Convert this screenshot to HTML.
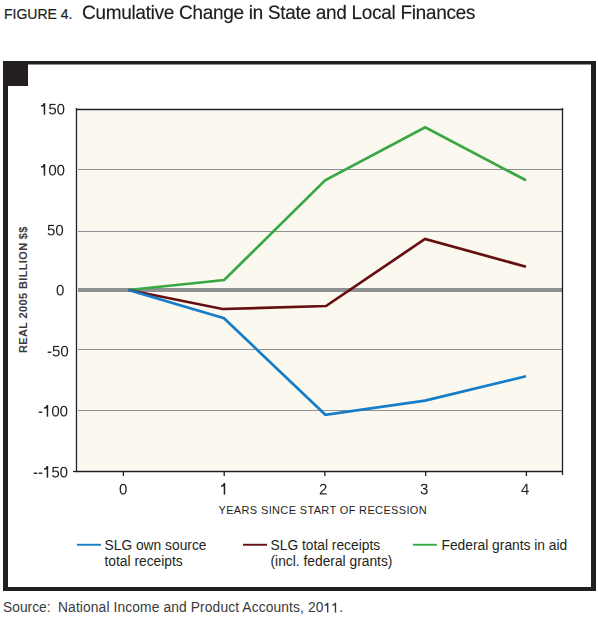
<!DOCTYPE html>
<html>
<head>
<meta charset="utf-8">
<style>
html,body{margin:0;padding:0;background:#fff;}
body{width:598px;height:621px;position:relative;overflow:hidden;font-family:"Liberation Sans",sans-serif;color:#231f20;}
.t{position:absolute;white-space:nowrap;line-height:1;}
.yl{font-size:30px;transform:scale(0.5,0.54);transform-origin:0 0;will-change:transform;}
.xl{font-size:30px;transform:scale(0.5,0.54);transform-origin:0 0;will-change:transform;}
.lg{font-size:13.8px;line-height:16px;}
svg{position:absolute;left:0;top:0;}
.o{position:relative;color:transparent;}
.o::before{content:"";position:absolute;left:0;top:0;width:1em;height:1em;background:#231f20;clip-path:polygon(24.7% 20.3%,34.7% 20.3%,34.7% 90.5%,24.7% 90.5%,24.7% 40%,6.7% 41.5%,6.7% 33%,17% 30.5%);}
.src .o::before{background:#3a3a3a;}

</style>
</head>
<body>
<svg width="598" height="621" viewBox="0 0 598 621">
  <!-- outer frame -->
  <path d="M3 61 H596 V591 H3 Z M8 64.6 V587 H591 V64.6 Z" fill="#231f20" fill-rule="evenodd"/>
  <rect x="3" y="61" width="25" height="25" fill="#231f20"/>
  <!-- plot bg -->
  <rect x="78" y="111" width="483.5" height="359" fill="#fbf8f0"/>
  <!-- gridlines -->
  <g fill="#8f9295">
    <rect x="78" y="169" width="484" height="1"/>
    <rect x="78" y="231" width="484" height="1"/>
    <rect x="78" y="349" width="484" height="1"/>
    <rect x="78" y="410" width="484" height="1"/>
  </g>
  <rect x="78" y="288" width="484" height="4" fill="#8e9091"/>
  <!-- axes -->
  <g stroke="#231f20" stroke-width="1.3" fill="none">
    <path d="M76.5 108 V471.5 H562.5 V109.5 H76.5"/>
    <line x1="73" y1="471.5" x2="76.5" y2="471.5"/>
    <line x1="123.4" y1="471.5" x2="123.4" y2="476"/>
    <line x1="224.2" y1="471.5" x2="224.2" y2="476"/>
    <line x1="324.9" y1="471.5" x2="324.9" y2="476"/>
    <line x1="425.7" y1="471.5" x2="425.7" y2="476"/>
    <line x1="526.4" y1="471.5" x2="526.4" y2="476"/>
    <line x1="562.5" y1="471.5" x2="562.5" y2="475"/>
    <line x1="562.5" y1="108" x2="562.5" y2="110"/>
  </g>
  <!-- data -->
  <g fill="none" stroke-width="2.7" stroke-linejoin="miter">
    <polyline stroke="#38a844" points="128.4,290 224.2,280 325.1,180.3 425.2,127.4 526,180.3"/>
    <polyline stroke="#660f11" points="128.4,290 222.5,309 326,306 425,239 526,266.7"/>
    <polyline stroke="#167dc8" points="128.4,290 224,318.2 325.4,414.8 425,400.6 526,376.2"/>
  </g>
  <!-- legend lines -->
  <rect x="77" y="543.8" width="24" height="1.9" fill="#167dc8"/>
  <rect x="243" y="543.8" width="24" height="1.9" fill="#660f11"/>
  <rect x="413" y="543.8" width="24" height="1.9" fill="#38a844"/>
</svg>

<div class="t" style="left:4px;top:7px;font-size:14px;-webkit-text-stroke:0.2px #231f20;">FIGURE 4.</div>
<div class="t" style="left:82px;top:3px;font-size:38px;letter-spacing:-0.6px;-webkit-text-stroke:0.35px #231f20;transform:scale(0.5);transform-origin:0 0;will-change:transform;">Cumulative Change in State and Local Finances</div>

<!-- y labels -->
<div class="t yl" style="left:39.7px;top:100.5px;"><span class="o">1</span>50</div>
<div class="t yl" style="left:39.7px;top:161.5px;"><span class="o">1</span>00</div>
<div class="t yl" style="left:47.4px;top:221.5px;">50</div>
<div class="t yl" style="left:56.3px;top:281.8px;">0</div>
<div class="t yl" style="left:46.5px;top:342.5px;">-50</div>
<div class="t yl" style="left:37.8px;top:402.5px;">-<span class="o">1</span>00</div>
<div class="t yl" style="left:32.5px;top:463.5px;">--<span class="o">1</span>50</div>

<!-- x labels -->
<div class="t xl" style="left:118.5px;top:481px;">0</div>
<div class="t xl" style="left:219.5px;top:481px;"><span class="o">1</span></div>
<div class="t xl" style="left:319px;top:481px;">2</div>
<div class="t xl" style="left:420px;top:481px;">3</div>
<div class="t xl" style="left:521.3px;top:481px;">4</div>

<div class="t" style="left:218.5px;top:505px;font-size:11px;letter-spacing:0.35px;">YEARS SINCE START OF RECESSION</div>

<div class="t" style="left:18px;top:353px;font-size:11px;letter-spacing:0.36px;font-weight:bold;color:#3d3a3b;transform-origin:0 0;transform:rotate(-90deg);">REAL 2005 BILLION $$</div>

<!-- legend -->
<div class="t lg" style="left:104.5px;top:538px;">SLG own source<br>total receipts</div>
<div class="t lg" style="left:270.5px;top:538px;">SLG total receipts<br>(incl. federal grants)</div>
<div class="t lg" style="left:441.5px;top:538px;">Federal grants in aid</div>

<div class="t" style="left:3px;top:601px;font-size:13.8px;color:#3a3a3a;">Source:</div>
<div class="t src" style="left:58px;top:601px;font-size:13.8px;color:#3a3a3a;letter-spacing:0.12px;">National Income and Product Accounts, 20<span class="o">1</span><span class="o">1</span>.</div>
</body>
</html>
